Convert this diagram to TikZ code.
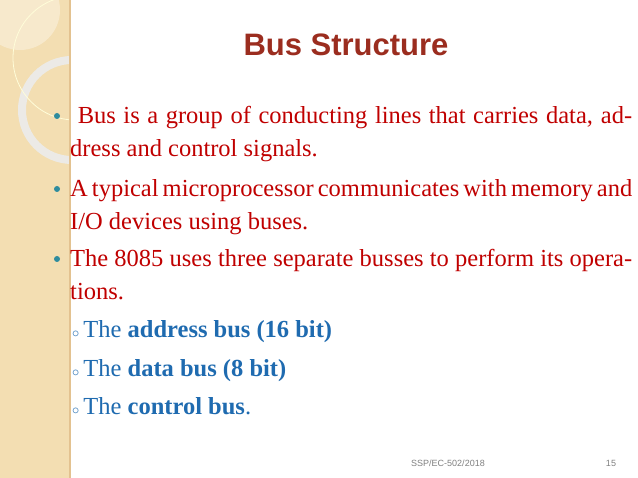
\documentclass[tikz,border=0pt]{standalone}
\usepackage{fontspec}
\setmainfont{Liberation Serif}
\newfontfamily\titlefont{Liberation Sans}
\newcommand\nohy{\hyphenpenalty=10000\relax\exhyphenpenalty=10000\relax}
\begin{document}
\begin{tikzpicture}[x=1pt,y=-1pt,
  body/.style={anchor=base west,inner sep=0pt,text width=562pt,align=justify,text=bodyred,font=\fontsize{24.5}{32.5}\selectfont},
  sub/.style={anchor=base west,inner sep=0pt,text=subblue,font=\fontsize{24.5}{32.5}\selectfont},
  dot/.style={circle,fill=dotteal,inner sep=0pt,minimum size=6pt}]
\definecolor{bodyred}{HTML}{C00000}
\definecolor{titlered}{HTML}{9B2D1F}
\definecolor{subblue}{HTML}{1F6BB0}
\definecolor{beige}{HTML}{F3DEB2}
\definecolor{dotteal}{HTML}{2E8C9E}
\useasboundingbox (0,0) rectangle (638,478);
\fill[white] (0,0) rectangle (638,478);
\begin{scope}
\clip (0,0) rectangle (70,478);
\fill[beige] (0,0) rectangle (70,478);
\fill[white,opacity=0.35] (20,10) circle (40);
\draw[line width=8pt,gray!15!white,opacity=0.9] (72,110) circle (50);
\draw[line width=0.8pt,white!85!yellow] (75,58) circle (62);
\end{scope}
\fill[beige!70!brown] (69,0) rectangle (70.5,478);
\node[font=\titlefont\bfseries\fontsize{31}{36}\selectfont,text=titlered] (title) at (346,45) {Bus Structure};
\node[dot] (b1) at (57,116) {};
\node[body] (t1) at (70,124) {\nohy\ Bus is a group of conducting lines that carries data, address and control signals.};
\node[dot] (b2) at (57,189) {};
\node[body] (t2) at (70,197) {\nohy A typical microprocessor communicates with memory and I/O devices using buses.};
\node[dot] (b3) at (57,259) {};
\node[body] (t3) at (70,267) {\nohy The 8085 uses three separate busses to perform its operations.};
\node[sub] (s1) at (72,338) {{\fontsize{14}{14}\selectfont$\circ$}\,The \textbf{address bus (16 bit)}};
\node[sub] (s2) at (72,377) {{\fontsize{14}{14}\selectfont$\circ$}\,The \textbf{data bus (8 bit)}};
\node[sub] (s3) at (72,415) {{\fontsize{14}{14}\selectfont$\circ$}\,The \textbf{control bus}.};
\node[font=\titlefont\fontsize{9}{10}\selectfont,text=gray] (foot) at (448,463) {SSP/EC-502/2018};
\node[font=\titlefont\fontsize{9}{10}\selectfont,text=gray] (page) at (611,463) {15};
\end{tikzpicture}
\end{document}
